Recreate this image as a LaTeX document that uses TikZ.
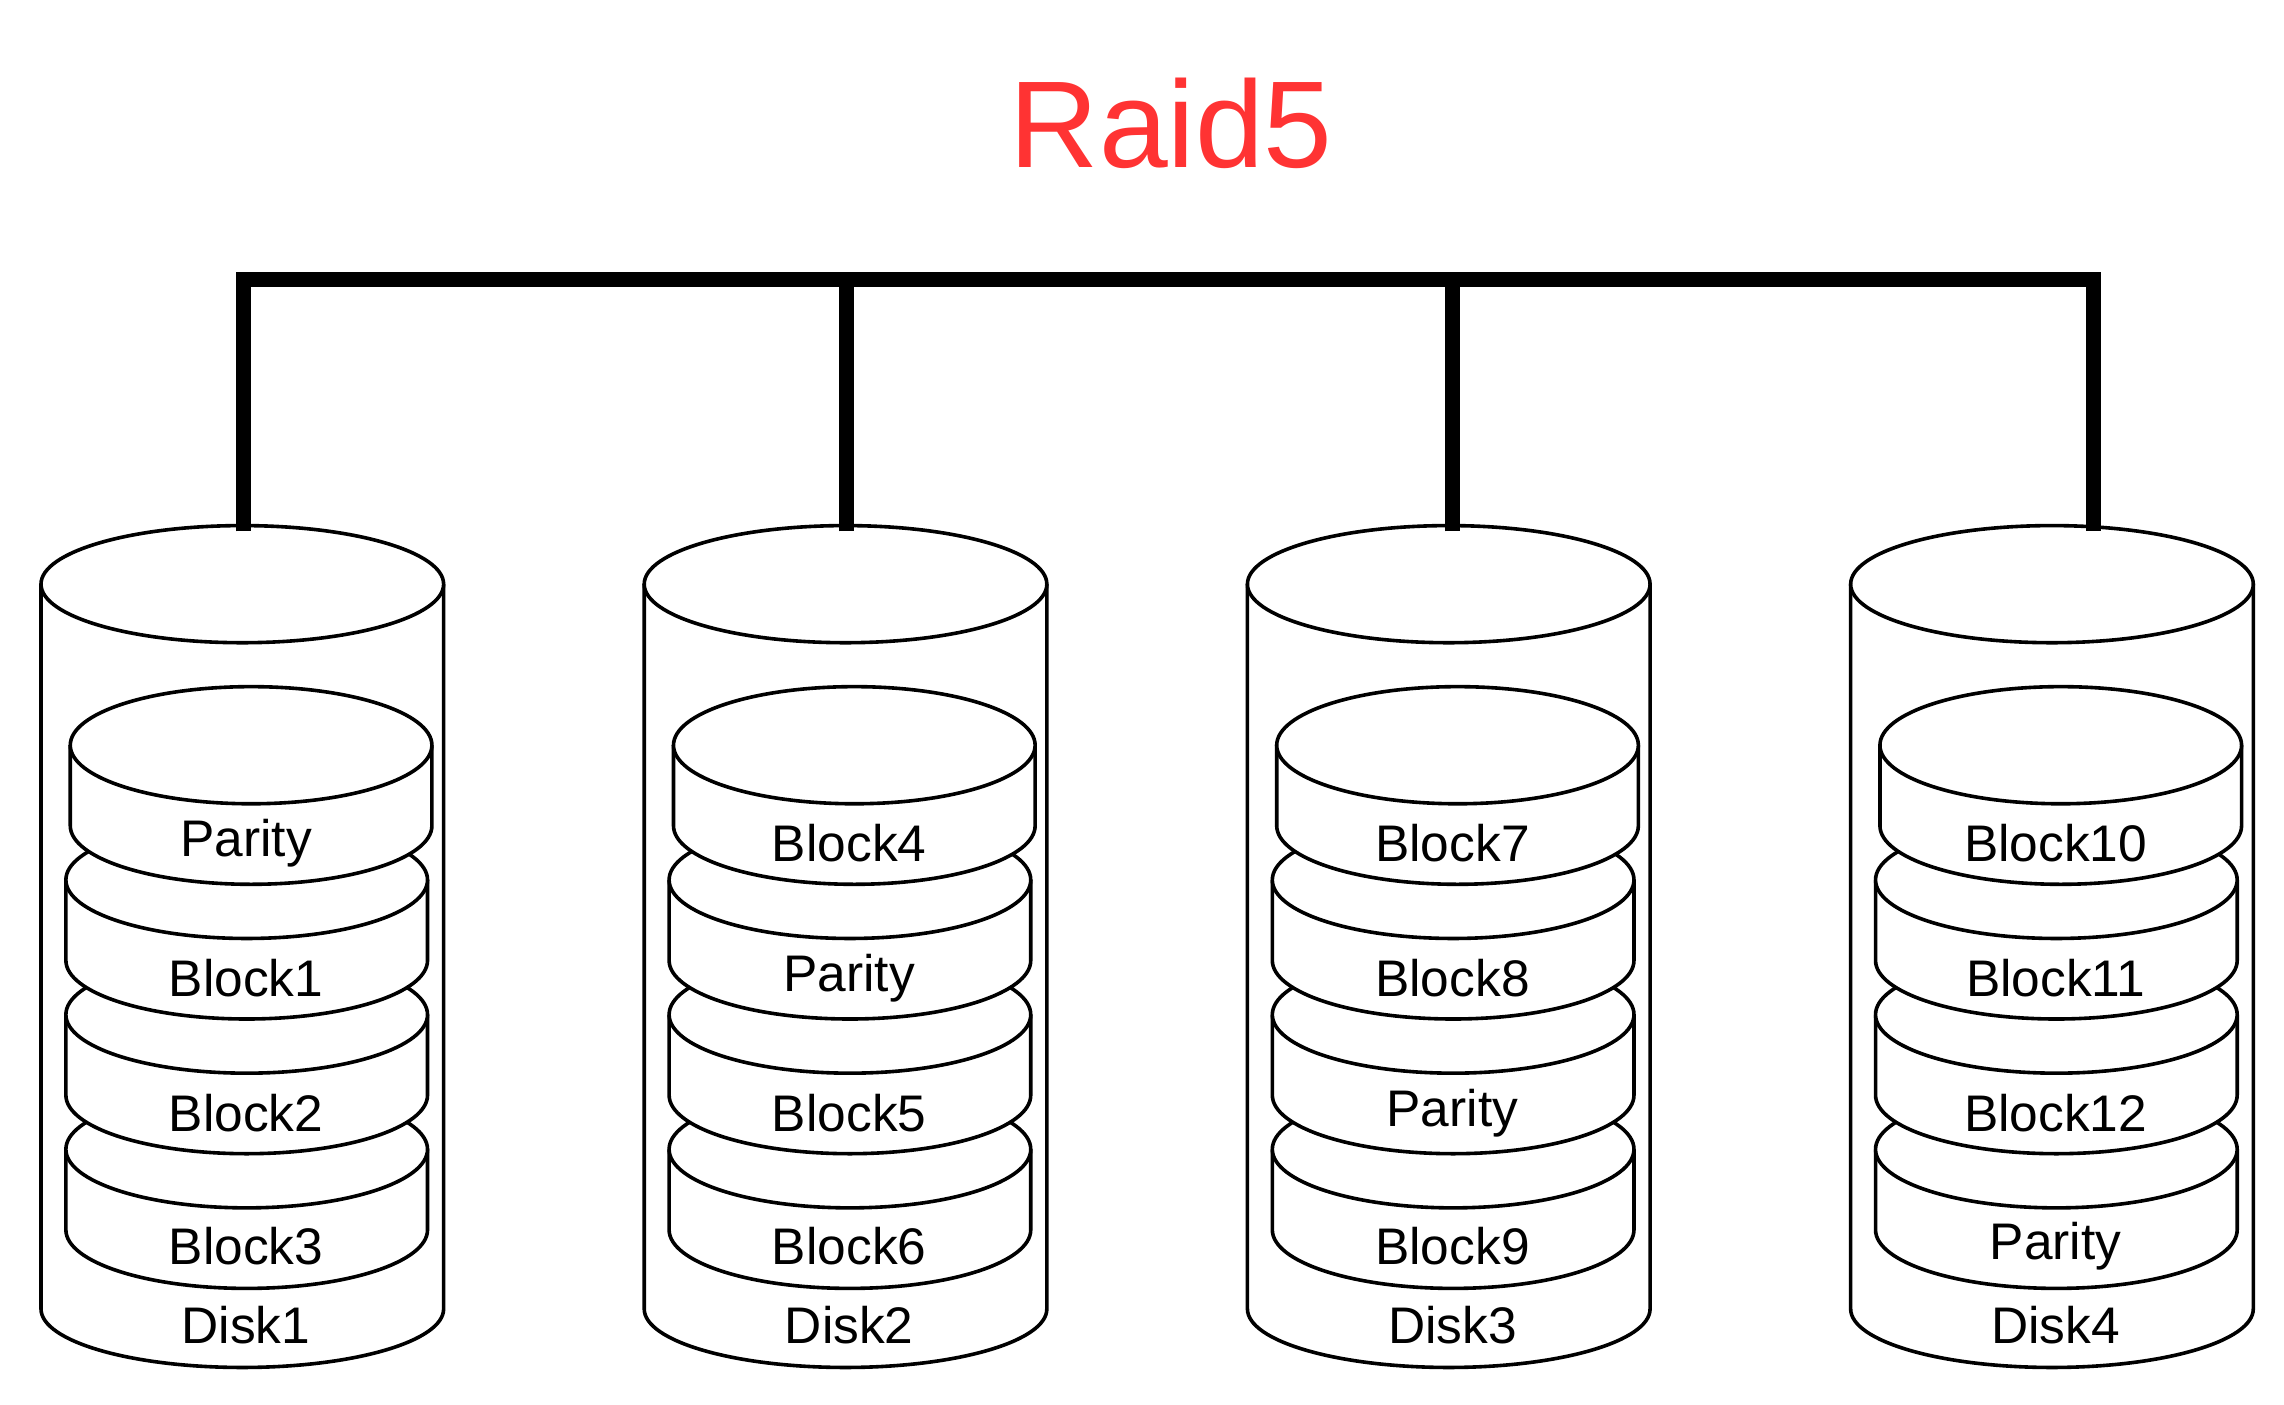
\documentclass[tikz,border=0pt]{standalone}
\usepackage{fontspec}
\setmainfont{Liberation Sans}
\newcommand\mycyl[5]{%
 \pgfmathsetmacro\cx{(#1+#2)/2}\pgfmathsetmacro\rx{(#2-#1)/2}%
 \filldraw[fill=white,line width=0.7pt] (#1,#3) -- (#1,#4) arc[start angle=180,end angle=360,x radius=\rx,y radius=#5] -- (#2,#3);
 \filldraw[fill=white,line width=0.7pt] (\cx,#3) ellipse[x radius=\rx,y radius=#5];}
\begin{document}
\begin{tikzpicture}[lbl/.style={font=\fontsize{10pt}{12pt}\selectfont},
 bus/.style={line width=2.9pt}]
\useasboundingbox (0,0) rectangle (15.6,9.59);
\node[text=red!80!white,font=\fontsize{24pt}{28pt}\selectfont] (title) at (8.0,8.75) {Raid5};
\foreach \i/\xs/\bx/\la/\lb/\lc/\ld in {1/0.28/1.66/Parity/Block1/Block2/Block3,2/4.40/5.78/Block4/Parity/Block5/Block6,3/8.52/9.92/Block7/Block8/Parity/Block9,4/12.64/14.30/Block10/Block11/Block12/Parity}{
 \pgfmathsetmacro\xa{\xs}\pgfmathsetmacro\xb{\xs+2.75}
 \mycyl{\xa}{\xb}{5.60}{0.65}{0.40}
 \pgfmathsetmacro\ia{\xs+0.17}\pgfmathsetmacro\ib{\xs+2.64}
 \pgfmathsetmacro\ja{\xs+0.20}\pgfmathsetmacro\jb{\xs+2.67}
 \mycyl{\ia}{\ib}{1.74}{1.19}{0.40}
 \mycyl{\ia}{\ib}{2.66}{2.11}{0.40}
 \mycyl{\ia}{\ib}{3.58}{3.03}{0.40}
 \mycyl{\ja}{\jb}{4.50}{3.95}{0.40}
 \pgfmathsetmacro\mx{\xs+1.40}
 \node[lbl] (b\i a) at (\mx,3.83) {\la};
 \node[lbl] (b\i b) at (\mx,2.91) {\lb};
 \node[lbl] (b\i c) at (\mx,1.99) {\lc};
 \node[lbl] (b\i d) at (\mx,1.08) {\ld};
 \node[lbl] (disk\i) at (\mx,0.54) {Disk\i};
 \coordinate (top\i) at (\bx,5.96);
 \coordinate (bus\i) at (\bx,7.68);
}
\draw[bus] (top1) -- (bus1) -- (bus4) -- (top4);
\draw[bus] (top2) -- (bus2);
\draw[bus] (top3) -- (bus3);
\end{tikzpicture}
\end{document}
